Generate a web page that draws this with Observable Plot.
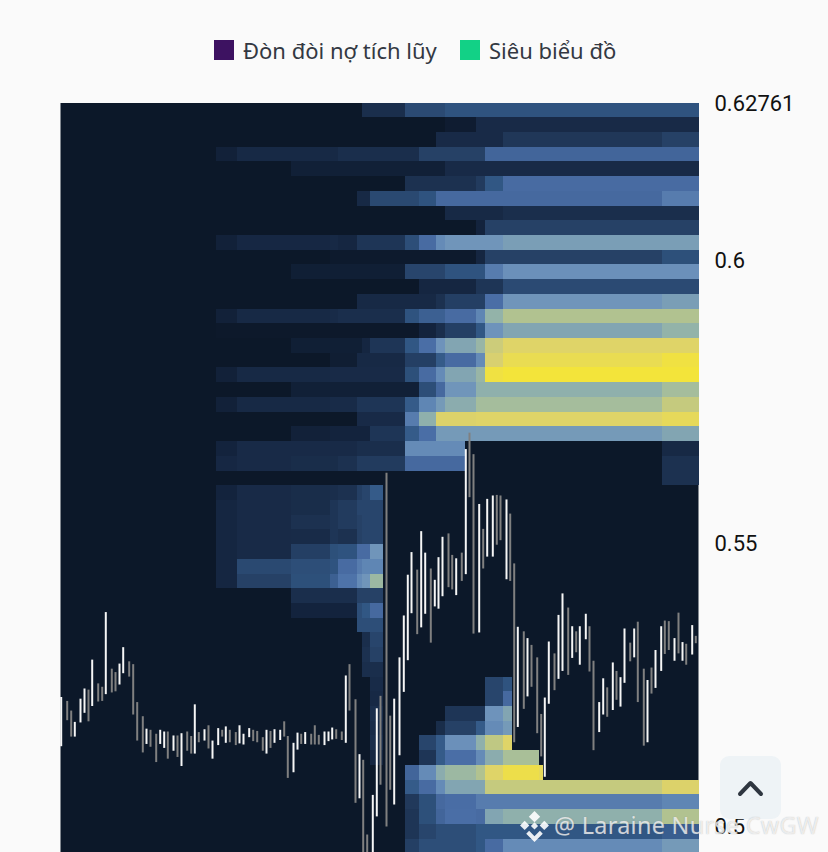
<!DOCTYPE html>
<html>
<head>
<meta charset="utf-8">
<script src="https://cdn.jsdelivr.net/npm/d3@7"></script>
<script src="https://cdn.jsdelivr.net/npm/@observablehq/plot@0.6"></script>
<style>
html,body{margin:0;padding:0;background:#fafafa;width:828px;height:852px;overflow:hidden;position:relative;font-family:"Noto Sans",sans-serif}
#legend{position:absolute;left:0;top:0;width:828px;height:90px}
.swatch{position:absolute;top:40px;width:20px;height:20px}
.lab{position:absolute;top:36px;font-size:22px;line-height:28px;color:#333842;white-space:nowrap}
#chart{position:absolute;left:0;top:90px}
#chart svg{display:block;background:transparent}
#top{position:absolute;left:720px;top:756px;width:61px;height:63px;border-radius:9px;background:#eef3f6}
#mark{position:absolute;left:519px;top:808px;height:34px;white-space:nowrap;color:rgba(255,255,255,.72);font-size:23.4px;line-height:34px;font-family:"Noto Sans",sans-serif;letter-spacing:.3px;text-shadow:0 0 1px rgba(120,120,120,.5)}
</style>
</head>
<body>
<div id="legend">
  <div class="swatch" style="left:214px;background:#3d1261"></div><div class="lab" style="left:243px">Đòn đòi nợ tích lũy</div>
  <div class="swatch" style="left:460px;background:#12d186"></div><div class="lab" style="left:489px">Siêu biểu đồ</div>
</div>
<div id="chart"></div>
<div id="top"><svg width="61" height="63" viewBox="0 0 61 63"><path d="M20 38 L30.5 27 L41 38" fill="none" stroke="#2f3640" stroke-width="4" stroke-linecap="round" stroke-linejoin="round"/></svg></div>
<div id="mark"><svg width="31" height="31" viewBox="0 0 30 30" style="vertical-align:-8px;margin-right:4px"><g fill="rgba(255,255,255,.9)"><path d="M15 0l5.5 5.5-5.5 5.5-5.5-5.5z"/><path d="M5.5 9.5l4.5 4.5-4.5 4.5-4.5-4.5z"/><path d="M24.5 9.5l4.5 4.5-4.5 4.5-4.5-4.5z"/><path d="M15 11l3.5 3.5-3.5 3.5-3.5-3.5z"/><path d="M15 30l-8-8 2.8-2.8 5.2 5.2 5.2-5.2 2.8 2.8z"/></g></svg>@ Laraine Nurse CwGW</div>
<script>
// Time axis: position along the session; price axis: token price.
const yDomain = [0.49541, 0.62783];
const priceTicks = [0.62761, 0.6, 0.55, 0.5];
const timeDomain = [0, 638];

// Liquidation heatmap
const binTop = 0.62783;
const binSize = 0.0026007;
const columnEdges = [156,177,231,270,278,297,302,310,323,345,359,376,385,405,416,425,443,452,479,483,602,639];
const levels = [
[0,0,0,0,0,0,18,18,18,33,33,33,38,38,38,38,38,38,38,38,38],
[0,0,0,0,0,0,0,0,0,0,0,0,4,4,15,15,15,15,15,15,15],
[0,0,0,0,0,0,0,0,0,0,0,15,15,15,15,15,23,23,23,23,28],
[8,14,14,14,18,18,18,18,18,18,28,28,28,28,28,48,48,48,48,48,48],
[0,0,7,7,7,7,7,7,7,7,7,7,15,15,15,15,15,15,15,15,15],
[0,0,0,0,0,0,0,0,0,20,20,20,20,20,25,40,52,52,52,52,52],
[0,0,0,0,0,14,14,32,32,32,38,50,50,50,50,50,50,50,50,50,58],
[0,0,0,0,0,0,0,0,0,0,0,0,14,14,14,14,18,18,18,18,18],
[0,0,0,0,0,0,0,0,0,0,0,0,0,0,10,28,28,28,28,28,28],
[8,13,13,14,12,22,22,22,22,35,52,62,66,66,66,66,70,70,70,70,70],
[0,0,0,2,2,2,2,2,2,2,2,2,2,2,12,28,28,28,28,28,36],
[0,0,6,6,6,6,6,6,6,30,30,30,38,38,38,58,64,64,64,64,64],
[0,0,0,0,0,0,0,0,0,0,12,12,12,12,22,22,33,33,33,33,33],
[0,0,0,0,0,14,14,14,14,14,14,20,27,27,27,55,66,66,66,66,70],
[8,14,14,16,18,18,18,18,18,38,45,45,52,52,60,76,83,83,83,83,83],
[1,1,1,1,1,1,1,1,1,1,10,18,27,27,40,65,72,72,72,72,76],
[0,0,6,6,6,6,12,22,22,40,55,65,72,72,77,88,93,93,93,93,93],
[0,0,0,5,5,14,14,14,14,27,27,42,52,52,62,90,97,97,97,97,99],
[8,14,14,15,15,15,15,15,15,36,52,62,72,72,77,99,100,100,100,100,100],
[0,0,7,7,7,7,7,7,7,7,35,50,66,66,75,75,75,75,75,75,80],
[8,14,14,16,16,22,22,22,22,42,60,68,74,74,80,80,80,80,80,80,87],
[0,0,0,0,0,15,15,15,15,58,75,92,92,92,93,93,93,93,93,93,96],
[0,0,8,10,10,10,10,22,22,42,55,68,68,68,68,68,68,68,68,68,72],
[10,15,15,15,15,18,18,18,18,62,62,62,62,0,0,0,0,0,0,0,14],
[13,15,17,17,20,25,25,25,25,50,50,50,50,0,0,0,0,0,0,0,20],
[0,0,0,0,0,0,0,0,0,0,0,0,0,0,0,0,0,0,0,0,20],
[10,15,17,18,20,27,30,42,0,0,0,0,0,0,0,0,0,0,0,0,0],
[12,15,17,22,25,30,30,30,0,0,0,0,0,0,0,0,0,0,0,0,0],
[12,15,20,22,25,28,30,30,0,0,0,0,0,0,0,0,0,0,0,0,0],
[12,15,16,22,20,28,30,30,0,0,0,0,0,0,0,0,0,0,0,0,0],
[12,15,27,36,38,52,52,66,0,0,0,0,0,0,0,0,0,0,0,0,0],
[12,32,35,38,52,58,60,60,0,0,0,0,0,0,0,0,0,0,0,0,0],
[12,28,36,45,56,62,66,78,0,0,0,0,0,0,0,0,0,0,0,0,0],
[0,0,18,18,18,28,28,28,0,0,0,0,0,0,0,0,0,0,0,0,0],
[0,0,10,10,10,35,40,50,0,0,0,0,0,0,0,0,0,0,0,0,0],
[0,0,0,0,0,35,35,35,0,0,0,0,0,0,0,0,0,0,0,0,0],
[0,0,0,0,0,0,18,30,0,0,0,0,0,0,0,0,0,0,0,0,0],
[0,0,0,0,0,0,20,28,0,0,0,0,0,0,0,0,0,0,0,0,0],
[0,0,0,0,0,0,18,18,0,0,0,0,0,0,0,0,0,0,0,0,0],
[0,0,0,0,0,0,0,16,0,0,0,0,0,0,0,30,38,0,0,0,0],
[0,0,0,0,0,0,0,14,0,0,0,0,0,0,0,30,50,0,0,0,0],
[0,0,0,0,0,0,0,18,0,0,0,0,22,22,22,65,72,0,0,0,0],
[0,0,0,0,0,0,0,16,0,0,0,17,28,28,42,62,68,0,0,0,0],
[0,0,0,0,0,0,0,18,0,0,30,42,64,64,75,86,93,0,0,0,0],
[0,0,0,0,0,0,0,12,0,0,22,42,55,55,62,74,81,81,0,0,0],
[0,0,0,0,0,0,0,0,0,48,62,74,78,78,83,93,98,98,96,0,0],
[0,0,0,0,0,0,0,0,0,42,52,62,72,72,72,87,87,87,87,87,92],
[0,0,0,0,0,0,0,0,0,24,36,50,54,54,58,58,58,58,58,58,60],
[0,0,0,0,0,0,0,0,0,22,36,48,55,55,52,72,75,75,75,75,83],
[0,0,0,0,0,0,0,0,0,22,30,35,35,35,40,40,40,40,40,40,44],
[0,0,0,0,0,0,0,0,0,27,35,35,35,35,40,52,62,62,62,62,68],
[0,0,0,0,0,0,0,0,0,30,33,33,38,38,38,38,38,38,38,38,42]
];
const colorStops = [0,10,20,30,40,50,55,60,65,70,75,80,85,90,95,100];
const colorRamp = ["#0c1829","#13233d","#1c3150","#28456c","#315784","#46699f","#4a6ea6","#5f86b4","#6e93bb","#7a9eb6","#8fb0ac","#a5bd9c","#b9c688","#d8d070","#e3d662","#f3e43a"];

// Price bars: position, high, low (in 1/10000 of price), and whether the bar closed up
const barTime = [0.7,6.7,10.7,14.3,20,24,28,31.7,37.7,41.7,45.3,51.3,55,59,62.7,68.7,72.7,76.7,82.3,86,90,95.7,99.7,103.7,107.3,113,117,121,126.7,130.7,134.3,138.3,144,148,152,157.7,161.7,165.3,169.3,175.3,179,183,188.7,192.7,196.7,202.3,206,210,214,219.7,223.7,227.3,233,237,240.7,244.7,250.7,254.3,258.3,264,268,271.7,275.7,281.3,285.3,289,295,299,302.7,306.7,312.3,316.3,320,326,329.7,333.7,339,343.3,347.3,351,356.7,360.7,364.7,370.3,374.3,378,382,388,391.7,395.7,401.3,405.3,409,413,418.7,422.7,426.7,432.3,436.3,440,446,449.7,453.7,457.3,463.3,467,471,476.7,480.7,484.3,488.3,494,498,502,507.7,511.7,515.7,519.3,525.3,529,533,538.7,542.7,546.7,552.3,556,560,564,569.7,573.7,577.3,583.3,587,591,595,600.7,604.3,608.3,614,618,622,625.7,631.7,635.3];
const barHigh = [5228,5221,5204,5184,5225,5243,5241,5294,5252,5246,5378,5278,5272,5287,5316,5291,5286,5219,5194,5172,5170,5163,5170,5167,5167,5160,5160,5164,5167,5159,5215,5166,5171,5178,5151,5173,5170,5176,5170,5166,5178,5163,5173,5170,5168,5157,5170,5168,5171,5170,5185,5159,5147,5165,5163,5166,5163,5178,5161,5167,5167,5174,5171,5167,5266,5286,5224,5127,5117,4985,5055,5208,5230,5624,5195,5225,5298,5372,5444,5484,5453,5521,5483,5455,5435,5475,5511,5517,5479,5473,5483,5666,5695,5657,5569,5525,5578,5584,5585,5584,5577,5552,5464,5352,5344,5332,5320,5298,5198,5227,5326,5305,5373,5411,5386,5353,5344,5353,5375,5353,5292,5219,5261,5245,5289,5274,5263,5349,5324,5349,5361,5278,5258,5280,5311,5353,5363,5362,5332,5377,5325,5322,5355,5336];
const barLow = [5141,5187,5158,5158,5183,5200,5185,5212,5220,5221,5233,5236,5238,5250,5270,5264,5197,5151,5130,5145,5140,5113,5145,5138,5119,5133,5122,5106,5133,5128,5128,5148,5151,5137,5119,5143,5158,5147,5148,5143,5146,5144,5157,5150,5148,5133,5128,5138,5147,5152,5158,5085,5095,5135,5145,5145,5144,5144,5144,5143,5150,5153,5154,5152,5147,5204,5041,5049,4950,4950,4950,5017,5073,4999,5064,5038,5125,5237,5293,5376,5339,5351,5375,5324,5388,5384,5406,5422,5418,5408,5433,5445,5581,5340,5342,5455,5476,5476,5497,5505,5436,5433,5148,5175,5207,5229,5246,5164,5123,5087,5216,5240,5260,5274,5267,5297,5307,5285,5330,5273,5134,5166,5197,5193,5205,5223,5211,5253,5291,5298,5219,5142,5148,5234,5244,5274,5304,5311,5292,5305,5292,5285,5303,5323];
const barUp = [1,0,0,1,1,1,0,1,0,0,1,0,0,1,1,0,0,0,0,1,0,0,1,1,0,1,0,1,0,0,1,0,1,0,1,1,0,1,0,0,1,1,1,0,0,0,1,0,1,1,0,0,1,1,0,1,0,0,0,1,1,1,0,0,1,0,0,1,0,0,1,1,0,0,0,1,1,1,1,1,0,1,1,0,1,1,1,0,0,1,0,1,0,0,1,0,1,1,0,0,1,0,0,1,0,1,0,0,0,1,1,0,1,1,0,1,0,1,1,0,0,1,1,0,1,0,1,1,0,1,0,0,1,0,1,1,0,0,1,0,1,0,1,0];

const cells = levels.flatMap((row, k) => row.map((level, c) => ({
  t1: columnEdges[c], t2: columnEdges[c + 1],
  p1: binTop - k * binSize, p2: binTop - (k + 1) * binSize, level
})).filter(d => d.level > 0));
const bars = barTime.map((t, i) => ({t, hi: barHigh[i] / 10000, lo: barLow[i] / 10000, up: barUp[i]}));

const plot = Plot.plot({
  width: 828, height: 762,
  marginLeft: 60, marginRight: 130, marginTop: 12.5, marginBottom: 0,
  style: {background: "transparent", overflow: "hidden"},
  x: {domain: timeDomain, axis: null},
  y: {domain: yDomain, label: null, axis: null},
  color: {type: "linear", domain: colorStops, range: colorRamp, interpolate: "rgb"},
  marks: [
    Plot.frame({fill: "#0c1829", stroke: null}),
    Plot.rect(cells, {x1: "t1", x2: "t2", y1: "p1", y2: "p2", fill: "level", shapeRendering: "crispEdges"}),
    Plot.ruleX(bars.filter(d => !d.up), {x: "t", y1: "lo", y2: "hi", stroke: "#808080", strokeWidth: 2, clip: "frame"}),
    Plot.ruleX(bars.filter(d => d.up), {x: "t", y1: "lo", y2: "hi", stroke: "#f6f6f6", strokeWidth: 2, clip: "frame"}),
    Plot.axisY(priceTicks, {anchor: "right", tickSize: 0, tickPadding: 16, label: null, tickFormat: d => String(d), fontSize: 22, fontFamily: "Roboto", fill: "#111"})
  ]
});
document.getElementById("chart").appendChild(plot);
</script>
</body>
</html>
